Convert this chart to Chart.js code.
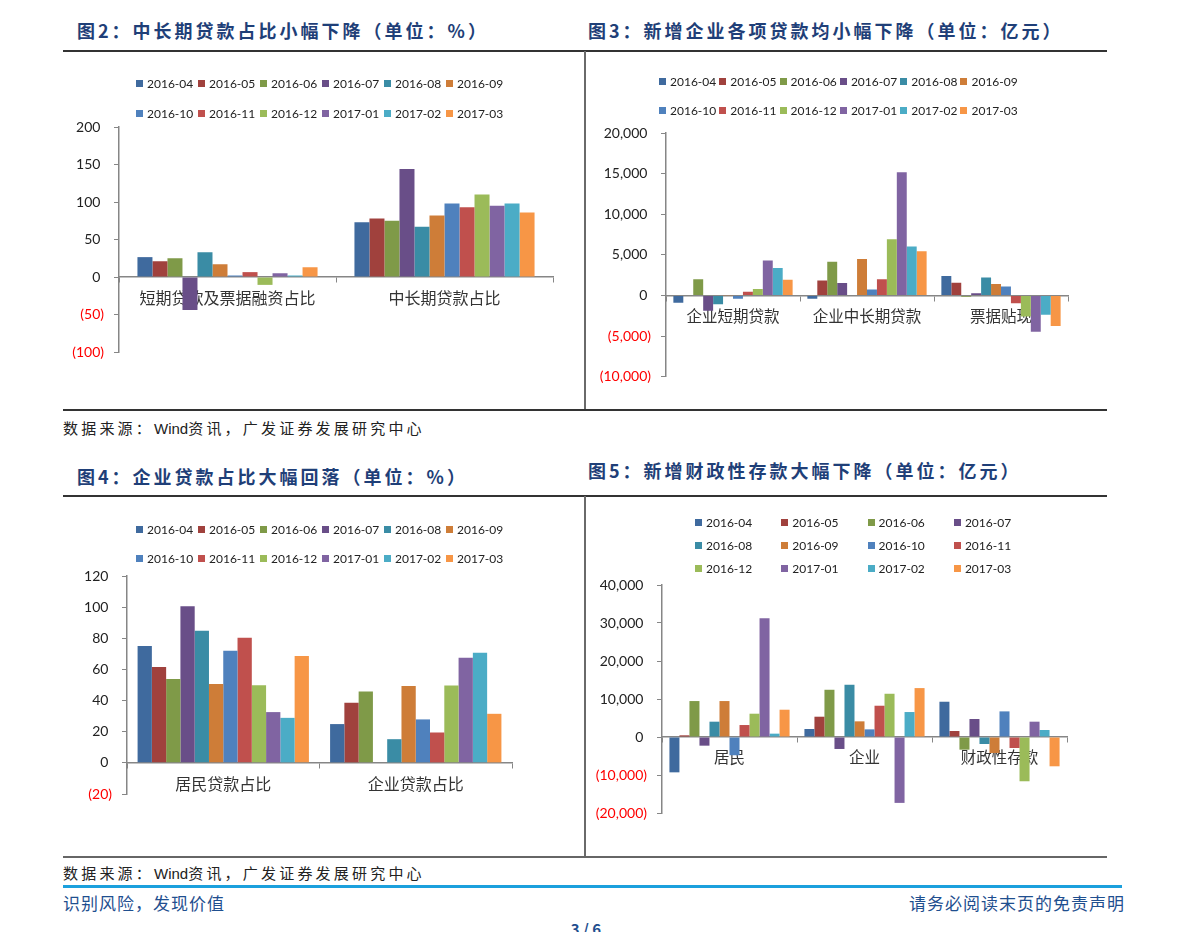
<!DOCTYPE html>
<html lang="zh-CN">
<head>
<meta charset="utf-8">
<title>信贷结构</title>
<script src="https://cdn.jsdelivr.net/npm/chart.js@4.4.1/dist/chart.umd.min.js"></script>
<style>
  body { margin: 0; background: #fff; }
  #page { position: relative; width: 1191px; height: 932px; overflow: hidden; font-family: 'Noto Sans CJK SC', sans-serif; }
  .title { position: absolute; font-size: 18px; font-weight: bold; color: #1f3f78; letter-spacing: 3px; line-height: 24px; white-space: nowrap; }
  .src { position: absolute; left: 63px; font-size: 15px; color: #222; letter-spacing: 3.2px; line-height: 20px; white-space: nowrap; }
  .src i { font-style: normal; font-family: 'Liberation Sans', sans-serif; letter-spacing: 0; }
  .foot { position: absolute; top: 892px; font-size: 17px; color: #1f4f8f; letter-spacing: 1px; line-height: 22px; white-space: nowrap; }
  .hline { position: absolute; left: 63px; width: 1044px; height: 2px; background: #333; }
  .vline { position: absolute; left: 584px; width: 2px; background: #6a6a6a; }
  canvas { position: absolute; }
  .legend { position: absolute; display: grid; font-family: Lato, sans-serif; font-size: 12px; color: #222; }
  .legend div { display: flex; align-items: center; white-space: nowrap; }
  .legend span { display: inline-block; width: 7px; height: 7px; margin-right: 4px; }
</style>
</head>
<body>
<div id="page">
  <div class="title" style="left:77px; top:18px">图2：中长期贷款占比小幅下降（单位：%）</div>
  <div class="title" style="left:588px; top:18px">图3：新增企业各项贷款均小幅下降（单位：亿元）</div>
  <div class="hline" style="top:50px"></div>
  <div class="vline" style="top:51px; height:359px"></div>
  <div class="hline" style="top:409px"></div>
  <div class="src" style="top:418px">数据来源：<i>Wind</i>资讯，广发证券发展研究中心</div>

  <div class="title" style="left:77px; top:464px">图4：企业贷款占比大幅回落（单位：%）</div>
  <div class="title" style="left:588px; top:458px">图5：新增财政性存款大幅下降（单位：亿元）</div>
  <div class="hline" style="top:495px"></div>
  <div class="vline" style="top:496px; height:361px"></div>
  <div class="hline" style="top:856px; background:#666"></div>
  <div class="src" style="top:863px">数据来源：<i>Wind</i>资讯，广发证券发展研究中心</div>

  <div style="position:absolute; left:63px; top:885px; width:1059px; height:3px; background:#1ba0dd"></div>
  <div class="foot" style="left:63px">识别风险，发现价值</div>
  <div class="foot" style="right:66px">请务必阅读末页的免责声明</div>
  <div style="position:absolute; left:0; width:1172px; top:918px; text-align:center; font-size:15px; font-weight:bold; color:#1f4f8f">3 / 6</div>

  <canvas id="fig2" width="515" height="270" style="left:60px; top:105px"></canvas>
  <canvas id="fig3" width="500" height="285" style="left:590px; top:110px"></canvas>
  <canvas id="fig4" width="475" height="260" style="left:60px; top:555px"></canvas>
  <canvas id="fig5" width="500" height="270" style="left:590px; top:565px"></canvas>

  <div class="legend" id="leg2"></div>
  <div class="legend" id="leg3"></div>
  <div class="legend" id="leg4"></div>
  <div class="legend" id="leg5"></div>
</div>

<script>
const months = ['2016-04', '2016-05', '2016-06', '2016-07', '2016-08', '2016-09',
                '2016-10', '2016-11', '2016-12', '2017-01', '2017-02', '2017-03']
const barColors = ['#3f6a9e', '#a0413d', '#7f9a48', '#694e88', '#3a8ca5', '#ce7d38',
                   '#4f81bd', '#c0504d', '#9bbb59', '#8064a2', '#4bacc6', '#f79646']

// 图2
const fig2Categories = ['短期贷款及票据融资占比', '中长期贷款占比']
const fig2Short = [26.5, 21, 25, -44, 33, 17, 2, 6.5, -10.5, 5, 2, 13]
const fig2Long = [73, 78, 75, 144, 67, 82, 98, 93, 110, 95, 98, 86]

// 图3
const fig3Categories = ['企业短期贷款', '企业中长期贷款', '票据贴现']
const fig3ShortTerm = [-900, 50, 2000, -1900, -1100, 30, -400, 450, 780, 4300, 3360, 1930]
const fig3MidLong = [-400, 1850, 4140, 1520, 0, 4470, 740, 2000, 6930, 15160, 6020, 5450]
const fig3Bill = [2380, 1560, -160, 250, 2210, 1390, 1100, -980, -2600, -4470, -2380, -3770]

// 图4
const fig4Categories = ['居民贷款占比', '企业贷款占比']
const fig4Household = [75, 61.5, 53.8, 100.5, 84.9, 50.6, 72, 80.4, 49.9, 32.6, 28.9, 68.6]
const fig4Corporate = [24.9, 38.6, 45.9, 0, 15.2, 49.3, 27.9, 19.5, 49.7, 67.5, 70.7, 31.5]

// 图5
const fig5Categories = ['居民', '企业', '财政性存款']
const fig5Household = [-9300, 440, 9460, -2280, 4030, 9460, -4800, 3150, 6130, 31260, 880, 7180]
const fig5Corporate = [2100, 5340, 12430, -3150, 13750, 4120, 2010, 8230, 11380, -17340, 6570, 12870]
const fig5Fiscal = [9280, 1580, -3330, 4730, -1840, -4200, 6740, -2890, -11650, 4030, 1840, -7710]

Chart.defaults.font.family = 'Lato, sans-serif'
Chart.defaults.animation = false

function buildLegend(id, left, top, cols, pitch, rowHeight) {
  const el = document.getElementById(id)
  el.style.left = left + 'px'
  el.style.top = top + 'px'
  el.style.gridTemplateColumns = `repeat(${cols}, ${pitch}px)`
  el.style.gridAutoRows = rowHeight + 'px'
  months.forEach((m, i) => {
    const item = document.createElement('div')
    item.innerHTML = `<span style="background:${barColors[i]}"></span>${m}`
    el.appendChild(item)
  })
}

function formatTick(value) {
  const txt = Math.abs(value).toLocaleString('en-US')
  return value < 0 ? `(${txt})` : txt + ' '
}

function buildChart(id, categories, seriesPerCategory, cfg) {
  const datasets = months.map((m, i) => ({
    label: m,
    data: seriesPerCategory.map(series => series[i]),
    backgroundColor: barColors[i],
    borderWidth: 0,
    barPercentage: 1,
    categoryPercentage: cfg.catPct
  }))

  return new Chart(document.getElementById(id), {
    type: 'bar',
    data: { labels: categories, datasets: datasets },
    options: {
      responsive: false,
      layout: { padding: { left: 0, top: cfg.pad[0], right: cfg.pad[1], bottom: cfg.pad[2] } },
      plugins: { legend: { display: false }, tooltip: { enabled: false } },
      scales: {
        x: {
          position: { y: 0 },
          z: 1,
          offset: true,
          grid: { drawOnChartArea: false, offset: true, tickLength: 5, color: '#868686' },
          border: { color: '#868686', width: 1.5 },
          ticks: {
            autoSkip: false,
            maxRotation: 0,
            padding: 6,
            color: '#333',
            font: { family: "'Noto Sans CJK SC', sans-serif", size: cfg.labelSize }
          }
        },
        y: {
          min: cfg.min,
          max: cfg.max,
          afterFit: scale => { scale.width = cfg.axisWidth },
          grid: { drawOnChartArea: false, tickLength: 5, color: '#868686' },
          border: { color: '#868686', width: 1.5 },
          ticks: {
            stepSize: cfg.step,
            padding: 10,
            font: { size: 14 },
            color: ctx => ctx.tick.value < 0 ? '#ff0000' : '#222',
            callback: value => formatTick(value)
          }
        }
      }
    }
  })
}

buildLegend('leg2', 136, 68, 6, 62, 30)
buildLegend('leg3', 659, 67, 6, 60.3, 29)
buildLegend('leg4', 136, 515, 6, 62, 29)
buildLegend('leg5', 695, 511, 4, 86.3, 23)

buildChart('fig2', fig2Categories, [fig2Short, fig2Long],
  { min: -100, max: 200, step: 50, axisWidth: 59, pad: [22, 22, 23], catPct: 0.83, labelSize: 16 })
buildChart('fig3', fig3Categories, [fig3ShortTerm, fig3MidLong, fig3Bill],
  { min: -10000, max: 20000, step: 5000, axisWidth: 76, pad: [23, 22, 18], catPct: 0.89, labelSize: 15.5 })
buildChart('fig4', fig4Categories, [fig4Household, fig4Corporate],
  { min: -20, max: 120, step: 20, axisWidth: 67, pad: [21, 23, 21], catPct: 0.89, labelSize: 16 })
buildChart('fig5', fig5Categories, [fig5Household, fig5Corporate, fig5Fiscal],
  { min: -20000, max: 40000, step: 10000, axisWidth: 72, pad: [20, 23, 22], catPct: 0.89, labelSize: 15.5 })
</script>
</body>
</html>
